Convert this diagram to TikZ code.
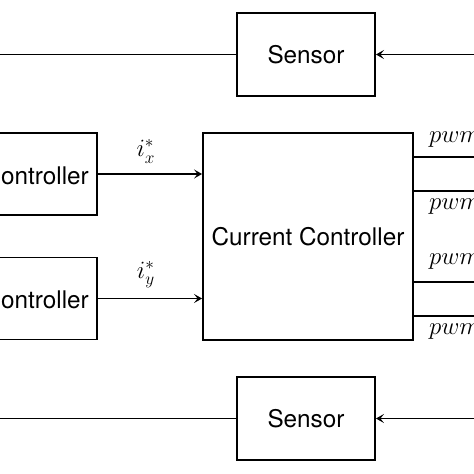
\documentclass[tikz,border=0pt]{standalone}
\usepackage{fontspec}
\setmainfont{TeX Gyre Heros}
\usetikzlibrary{arrows.meta}
\begin{document}
\begin{tikzpicture}[x=1pt,y=-1pt,
  blk/.style={draw, line width=1.9pt, inner sep=0pt, font=\fontsize{24.3}{28}\selectfont},
  txt/.style={inner sep=0pt, font=\fontsize{24.3}{28}\selectfont},
  sig/.style={line width=1.9pt},
  arr/.style={sig, -{Stealth[length=8pt,width=9pt,inset=3.5pt]}},
  lbl/.style={inner sep=0pt, font=\fontsize{26}{30}\selectfont}]
\useasboundingbox (0,0) rectangle (474,474);
\clip (0,0) rectangle (474,474);
% sensors
\node[blk, minimum width=138pt, minimum height=83pt] (s1) at (306,54.5) {Sensor};
\node[blk, minimum width=138pt, minimum height=83pt] (s2) at (306,418.5) {Sensor};
\coordinate (s1l) at (-5,54.5);
\coordinate (s1r) at (480,54.5);
\coordinate (s2l) at (-5,418.5);
\coordinate (s2r) at (480,418.5);
\draw[sig] (s1.west) -- (s1l);
\draw[arr] (s1r) -- (s1.east);
\draw[sig] (s2.west) -- (s2l);
\draw[arr] (s2r) -- (s2.east);
% controllers
\node[blk, minimum width=160pt, minimum height=82pt] (c1) at (17,174) {};
\node[blk, minimum width=160pt, minimum height=82pt] (c2) at (17,298.5) {};
\node[txt, anchor=east] (c1t) at (89,175.5) {Controller};
\node[txt, anchor=east] (c2t) at (89,300) {Controller};
% current controller
\node[blk, minimum width=210pt, minimum height=207pt] (cc) at (308,236.5) {Current Controller};
\draw[arr] (c1.east) -- (cc.west |- c1.east) node[lbl, pos=0.46, above=10pt] (ix) {$i_x^*$};
\draw[arr] (c2.east) -- (cc.west |- c2.east) node[lbl, pos=0.46, above=10pt] (iy) {$i_y^*$};
% outputs
\coordinate (o1) at (480,157);
\coordinate (o2) at (480,191);
\coordinate (o3) at (480,282);
\coordinate (o4) at (480,316);
\draw[sig] (cc.east |- o1) -- (o1);
\draw[sig] (cc.east |- o2) -- (o2);
\draw[sig] (cc.east |- o3) -- (o3);
\draw[sig] (cc.east |- o4) -- (o4);
\node[lbl, anchor=west] (p1) at (429,140) {$pwm_1$};
\node[lbl, anchor=west] (p2) at (429,207) {$pwm_2$};
\node[lbl, anchor=west] (p3) at (429,262) {$pwm_3$};
\node[lbl, anchor=west] (p4) at (429,332) {$pwm_4$};
\end{tikzpicture}
\end{document}
